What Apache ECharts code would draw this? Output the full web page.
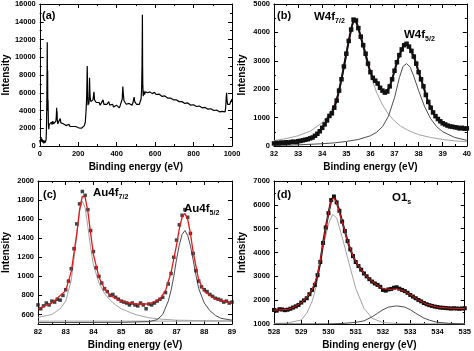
<!DOCTYPE html>
<html><head><meta charset="utf-8">
<script src="https://cdn.jsdelivr.net/npm/echarts@6/dist/echarts.min.js"></script>
<style>html,body{margin:0;padding:0;background:#fff}#c{width:474px;height:351px}</style>
</head><body><div id="c"></div>
<script>
// ---------- (a) survey spectrum ----------
const surveyData = [[0,700],[3,300],[6,900],[9,500],[12,800],[15,400],[18,650],[21,300],[24,600],[27,350],[30,500],[33,700],[35,2000],[37,5500],[39,11700],[40,7000],[41,8500],[42,4000],[43,5200],[45,2500],[47,1900],[49,2400],[52,2200],[55,2500],[58,2300],[61,2700],[64,2400],[68,2800],[72,2500],[76,2600],[80,2400],[84,2800],[86,3300],[88,4300],[89,3000],[90,3900],[91,3000],[94,2500],[98,2700],[102,2500],[106,3100],[110,2600],[114,2700],[118,2400],[122,2500],[127,2300],[132,2450],[137,2300],[142,2400],[147,2200],[152,2450],[157,2200],[162,2350],[167,2250],[172,2200],[177,2300],[182,2100],[187,2200],[192,2050],[197,2150],[202,2050],[207,2000],[212,2100],[217,2000],[222,2050],[227,2150],[232,2300],[237,2700],[241,4000],[244,5500],[247,9000],[249,6000],[251,4600],[253,5000],[255,4700],[257,5200],[258,6500],[259,7700],[261,6000],[263,5300],[266,5000],[269,5100],[273,4800],[277,5200],[280,5400],[282,6100],[285,5200],[289,5000],[294,4900],[299,4900],[304,4700],[309,4900],[314,4600],[319,4800],[324,4700],[329,5200],[334,4700],[339,4800],[344,4600],[349,4700],[354,4600],[359,5000],[364,4600],[369,4700],[374,4500],[379,4700],[384,4400],[389,4600],[394,4400],[399,4600],[404,4400],[409,4500],[414,4300],[419,4600],[425,4700],[429,5300],[432,6700],[435,5800],[438,5100],[442,4900],[446,5000],[450,4700],[455,4900],[460,4600],[465,4800],[470,4700],[475,4700],[480,4600],[485,4900],[488,5100],[491,5500],[494,5000],[498,4800],[503,4700],[508,4600],[513,4800],[518,4700],[523,4800],[527,5300],[530,6500],[532,9000],[534,14800],[535,9000],[536,7000],[538,5600],[541,6200],[545,5800],[549,6100],[553,5900],[557,6200],[561,6000],[565,6200],[569,6000],[573,6100],[577,5900],[581,6100],[585,5900],[589,6100],[593,5900],[597,6050],[601,5950],[605,5800],[610,5950],[615,5750],[620,5850],[625,5650],[630,5750],[635,5600],[640,5700],[645,5550],[650,5650],[655,5500],[660,5550],[665,5400],[670,5500],[675,5300],[680,5400],[685,5250],[690,5300],[695,5200],[700,5300],[705,5100],[710,5200],[715,5050],[720,5150],[725,5000],[730,5100],[735,4950],[740,5000],[745,4850],[750,4950],[755,4800],[760,4850],[765,4750],[770,4850],[775,4650],[780,4750],[785,4600],[790,4700],[795,4550],[800,4650],[805,4500],[810,4600],[815,4450],[820,4550],[825,4400],[830,4500],[835,4350],[840,4450],[845,4300],[850,4400],[855,4250],[860,4350],[865,4200],[870,4300],[875,4150],[880,4250],[885,4100],[890,4200],[895,4050],[900,4150],[905,4000],[910,4100],[915,3950],[920,4050],[925,3900],[930,4000],[935,3850],[940,3950],[945,3850],[950,3900],[955,3800],[960,3900],[964,3850],[967,4300],[970,5500],[972,6000],[974,5200],[977,4700],[980,4800],[984,4600],[988,4700],[992,4900],[996,5100],[1000,5300]];

// ---------- (b) W4f ----------
const w4fData = [[32.0,90],[32.1,110],[32.2,100],[32.3,120],[32.4,110],[32.5,130],[32.6,120],[32.7,140],[32.8,150],[32.9,140],[33.0,170],[33.1,180],[33.2,200],[33.3,220],[33.4,240],[33.5,270],[33.6,300],[33.7,360],[33.8,430],[33.9,520],[34.0,640],[34.1,760],[34.2,900],[34.3,1060],[34.4,1150],[34.5,1350],[34.6,1600],[34.7,1950],[34.8,2350],[34.9,2800],[35.0,3250],[35.1,3700],[35.2,4100],[35.3,4450],[35.4,4420],[35.5,4150],[35.6,3850],[35.7,3550],[35.8,3250],[35.9,2900],[36.0,2600],[36.1,2400],[36.2,2300],[36.3,2200],[36.4,2050],[36.5,1950],[36.6,1880],[36.7,1920],[36.8,2100],[36.9,2350],[37.0,2650],[37.1,2950],[37.2,3200],[37.3,3400],[37.4,3550],[37.5,3600],[37.6,3500],[37.7,3350],[37.8,3150],[37.9,2900],[38.0,2600],[38.1,2350],[38.2,2100],[38.3,1800],[38.4,1550],[38.5,1350],[38.6,1180],[38.7,1050],[38.8,950],[38.9,870],[39.0,800],[39.1,760],[39.2,720],[39.3,690],[39.4,680],[39.5,660],[39.6,650],[39.7,620],[39.8,640],[39.9,610],[40.0,620]];
const w4fFit = [[32.0,110],[32.4,120],[32.8,150],[33.2,200],[33.6,310],[34.0,650],[34.2,900],[34.4,1200],[34.6,1620],[34.8,2350],[35.0,3250],[35.2,4100],[35.3,4400],[35.4,4380],[35.6,3850],[35.8,3200],[36.0,2600],[36.2,2270],[36.4,2050],[36.6,1900],[36.8,2080],[37.0,2620],[37.2,3180],[37.4,3520],[37.5,3570],[37.6,3480],[37.8,3130],[38.0,2600],[38.2,2080],[38.4,1560],[38.6,1190],[38.8,950],[39.0,800],[39.4,680],[39.8,630],[40.0,620]];
const w4f72Peak = [[32.0,190],[32.5,260],[33.0,360],[33.5,520],[34.0,820],[34.25,1080],[34.5,1450],[34.75,2100],[35.0,3150],[35.15,3900],[35.3,4400],[35.45,4250],[35.6,3800],[35.8,3100],[36.0,2500],[36.25,1900],[36.5,1450],[36.75,1120],[37.0,880],[37.25,700],[37.5,580],[37.75,480],[38.0,400],[38.5,300],[39.0,230],[39.5,180],[40.0,150]];
const w4f52Peak = [[32.0,20],[33.0,40],[34.0,80],[34.5,110],[35.0,160],[35.5,230],[36.0,360],[36.25,480],[36.5,680],[36.75,1050],[37.0,1700],[37.2,2400],[37.35,2800],[37.5,2900],[37.65,2780],[37.8,2450],[38.0,1950],[38.25,1380],[38.5,960],[38.75,680],[39.0,500],[39.5,300],[40.0,200]];

// ---------- (c) Au4f ----------
const au4fData = [[82.0,700],[82.1,660],[82.2,690],[82.3,720],[82.4,700],[82.5,740],[82.6,730],[82.7,760],[82.8,750],[82.9,800],[83.0,860],[83.1,950],[83.2,1080],[83.3,1290],[83.4,1550],[83.5,1760],[83.6,1890],[83.7,1850],[83.8,1700],[83.9,1480],[84.0,1260],[84.1,1090],[84.2,1000],[84.3,930],[84.4,870],[84.5,840],[84.6,800],[84.7,810],[84.8,780],[84.9,760],[85.0,740],[85.1,730],[85.2,720],[85.3,700],[85.4,720],[85.5,700],[85.6,690],[85.7,720],[85.8,700],[85.9,660],[86.0,710],[86.1,700],[86.2,720],[86.3,740],[86.4,760],[86.5,780],[86.6,830],[86.7,920],[86.8,1030],[86.9,1200],[87.0,1380],[87.1,1540],[87.2,1640],[87.3,1700],[87.4,1620],[87.5,1450],[87.6,1240],[87.7,1060],[87.8,950],[87.9,890],[88.0,860],[88.1,840],[88.2,810],[88.3,790],[88.4,770],[88.5,760],[88.6,750],[88.7,730],[88.8,740],[88.9,720],[89.0,730]];
const au4fFit = [[82.0,660],[82.5,720],[83.0,850],[83.2,1050],[83.4,1450],[83.5,1700],[83.6,1840],[83.65,1860],[83.7,1830],[83.8,1680],[83.9,1450],[84.0,1230],[84.2,990],[84.4,870],[84.6,800],[85.0,740],[85.5,710],[86.0,710],[86.4,760],[86.6,850],[86.8,1040],[87.0,1330],[87.1,1500],[87.2,1620],[87.3,1660],[87.4,1600],[87.5,1450],[87.6,1250],[87.8,960],[88.0,840],[88.4,760],[89.0,720]];
const au4f72Peak = [[82.0,570],[82.5,600],[82.8,660],[83.0,740],[83.2,960],[83.3,1180],[83.4,1430],[83.5,1680],[83.6,1790],[83.7,1720],[83.8,1520],[83.9,1300],[84.0,1120],[84.2,930],[84.4,820],[84.6,750],[84.8,700],[85.0,660],[85.5,600],[86.0,565],[86.5,550],[87.0,540],[88.0,535],[89.0,532]];
const au4f52Peak = [[82.0,515],[85.0,517],[86.0,525],[86.3,545],[86.5,600],[86.7,740],[86.8,850],[86.9,1000],[87.0,1180],[87.1,1330],[87.2,1440],[87.3,1480],[87.4,1430],[87.5,1320],[87.6,1170],[87.7,1010],[87.8,870],[88.0,720],[88.2,640],[88.4,590],[88.6,560],[89.0,540]];
const au4fBase = [[82.0,530],[89.0,530]];

// ---------- (d) O1s ----------
const o1sData = [[528.0,1590],[528.1,1560],[528.2,1620],[528.3,1610],[528.4,1580],[528.5,1600],[528.6,1640],[528.7,1690],[528.8,1740],[528.9,1800],[529.0,1900],[529.1,1990],[529.2,2080],[529.3,2250],[529.4,2430],[529.5,2640],[529.6,3050],[529.7,3600],[529.8,4400],[529.9,5050],[530.0,5650],[530.1,6200],[530.2,6350],[530.3,6100],[530.4,5750],[530.5,5300],[530.6,4900],[530.7,4480],[530.8,4130],[530.9,3850],[531.0,3600],[531.1,3430],[531.2,3280],[531.3,3120],[531.4,3000],[531.5,2880],[531.6,2780],[531.7,2700],[531.8,2640],[531.9,2560],[532.0,2430],[532.1,2400],[532.2,2450],[532.3,2470],[532.4,2520],[532.5,2540],[532.6,2480],[532.7,2430],[532.8,2380],[532.9,2310],[533.0,2220],[533.1,2150],[533.2,2080],[533.3,2010],[533.4,1950],[533.5,1880],[533.6,1830],[533.7,1790],[533.8,1760],[533.9,1730],[534.0,1710],[534.1,1690],[534.2,1680],[534.3,1670],[534.4,1660],[534.5,1650],[534.6,1660],[534.7,1650],[534.8,1640],[534.9,1650],[535.0,1660]];
const o1sFit = [[528.0,1580],[528.5,1610],[528.8,1740],[529.0,1890],[529.2,2100],[529.4,2450],[529.6,3050],[529.8,4350],[530.0,5650],[530.1,6150],[530.2,6300],[530.3,6080],[530.5,5300],[530.7,4480],[530.9,3850],[531.1,3430],[531.3,3120],[531.5,2880],[531.8,2620],[532.0,2480],[532.3,2450],[532.5,2480],[532.8,2370],[533.0,2230],[533.3,2010],[533.6,1830],[534.0,1710],[534.5,1660],[535.0,1650]];
const o1sLatticePeak = [[528.0,1020],[528.5,1040],[529.0,1170],[529.2,1450],[529.4,1950],[529.5,2360],[529.6,2850],[529.8,4200],[530.0,5200],[530.15,5600],[530.3,5450],[530.5,4650],[530.8,3350],[531.0,2500],[531.3,1660],[531.6,1240],[532.0,1060],[532.5,1020],[535.0,1005]];
const o1sOHPeak = [[528.0,1000],[530.0,1005],[530.5,1020],[531.0,1070],[531.3,1130],[531.6,1300],[531.8,1450],[532.0,1600],[532.2,1710],[532.5,1760],[532.8,1710],[533.0,1600],[533.2,1450],[533.5,1250],[533.7,1160],[534.0,1070],[534.5,1020],[535.0,1005]];

// axis ranges [min, max, interval]
const xRanges = [[0,1000,200],[32,40,1],[82,89,1],[528,535,1]];
const yRanges = [[0,16000,2000],[0,5000,1000],[500,2000,100],[1000,7000,1000]];
const auYLabels = [600,800,1000,1200,1400,1600,1800,2000];

const FONT = '"Liberation Sans", Arial, sans-serif';
const grids = [
  {left:38, top:3, width:194, height:143},
  {left:274, top:3, width:194, height:143},
  {left:38, top:181, width:194, height:143},
  {left:274, top:181, width:194, height:143}
];
const xAxes = [], yAxes = [];
const lineCol = '#000';
const fmt = v => String(v);
for (let g = 0; g < 4; g++) {
  const [x0,x1,xi] = xRanges[g];
  const [y0,y1,yi] = yRanges[g];
  const tick = {show:true, inside:true, length:4, lineStyle:{color:lineCol, width:1}};
  const minor = {show:true, splitNumber:2, length:2, lineStyle:{color:lineCol, width:1}};
  const lab = {fontSize:7.5, fontWeight:'bold', color:'#000', fontFamily:FONT, formatter:fmt};
  xAxes.push({gridIndex:g, type:'value', min:x0, max:x1, interval:xi, position:'bottom',
    axisLine:{onZero:false, lineStyle:{color:lineCol, width:1}}, axisTick:tick, minorTick:minor,
    axisLabel:Object.assign({margin:4}, lab), splitLine:{show:false},
    name:'Binding energy (eV)', nameLocation:'middle', nameGap:16,
    nameTextStyle:{fontSize:10, fontWeight:'bold', color:'#000', fontFamily:FONT}});
  xAxes.push({gridIndex:g, type:'value', min:x0, max:x1, interval:xi, position:'top',
    axisLine:{onZero:false, lineStyle:{color:lineCol, width:1}}, axisTick:tick, minorTick:minor,
    axisLabel:{show:false}, splitLine:{show:false}});
  const yl = Object.assign({margin:4}, lab);
  const yt = Object.assign({}, tick);
  let ym = minor;
  if (g === 2) { yl.customValues = auYLabels; yt.customValues = auYLabels; ym = {show:false}; }
  yAxes.push({gridIndex:g, type:'value', min:y0, max:y1, interval:yi, position:'left',
    axisLine:{show:true, onZero:false, lineStyle:{color:lineCol, width:1}}, axisTick:yt, minorTick:ym,
    axisLabel:yl, splitLine:{show:false},
    name:'Intensity', nameLocation:'middle', nameGap:27, nameRotate:90,
    nameTextStyle:{fontSize:10, fontWeight:'bold', color:'#000', fontFamily:FONT}});
  yAxes.push({gridIndex:g, type:'value', min:y0, max:y1, interval:yi, position:'right',
    axisLine:{show:true, onZero:false, lineStyle:{color:lineCol, width:1}}, axisTick:yt, minorTick:ym,
    axisLabel:{show:false}, splitLine:{show:false}});
}
const RED = '#e3191c', LGRAY = '#a3a3a3', DGRAY = '#4d4d4d';
function line(g, data, color, width, z) {
  return {type:'line', xAxisIndex:2*g, yAxisIndex:2*g, data, showSymbol:false, symbol:'none',
    lineStyle:{color, width}, z, animation:false, silent:true};
}
function band(g, data, size) {
  return {type:'line', xAxisIndex:2*g, yAxisIndex:2*g, data, symbol:'rect', symbolSize:size, showSymbol:true,
    showAllSymbol:true, itemStyle:{color:'#111'}, lineStyle:{color:'#111', width:2}, z:4, animation:false, silent:true};
}
function pts(g, data, size) {
  return {type:'scatter', xAxisIndex:2*g, yAxisIndex:2*g, data, symbol:'rect', symbolSize:size,
    itemStyle:{color:'#111'}, z:4, animation:false, silent:true};
}
const series = [
  line(0, surveyData, '#000', 1.2, 3),
  line(1, w4f72Peak, LGRAY, 1, 2), line(1, w4f52Peak, DGRAY, 1, 2),
  line(1, w4fFit, RED, 1.4, 3), band(1, w4fData, 4.5),
  line(2, au4fBase, LGRAY, 1, 2), line(2, au4f72Peak, LGRAY, 1, 2), line(2, au4f52Peak, DGRAY, 1, 2),
  pts(2, au4fData, 3.5), line(2, au4fFit, RED, 1.3, 5),
  line(3, o1sLatticePeak, LGRAY, 1, 2), line(3, o1sOHPeak, DGRAY, 1, 2),
  band(3, o1sData, 4), line(3, o1sFit, RED, 1, 5)
];
function label(x, y, text, size) {
  return {type:'text', x:x, y:y, z:20, style:{text, fontSize:size||11, fontWeight:'bold', fill:'#000', fontFamily:FONT, verticalAlign:'middle', align:'left'}};
}
function subLabel(x, y, main, sub) {
  return {type:'text', x:x, y:y, z:20, style:{
    text:'{m|' + main + '}{s|' + sub + '}', verticalAlign:'middle', fontFamily:FONT,
    rich:{m:{fontSize:11.5, fontWeight:'bold', fill:'#000', fontFamily:FONT, lineHeight:16, verticalAlign:'middle'},
          s:{fontSize:7, fontWeight:'bold', fill:'#000', fontFamily:FONT, lineHeight:16, verticalAlign:'bottom'}}}};
}
const graphics = [
  label(42, 16, '(a)'), label(277, 16, '(b)'), label(43, 195, '(c)'), label(277, 195, '(d)'),
  subLabel(314, 17, 'W4f', '7/2'), subLabel(404, 35, 'W4f', '5/2'),
  subLabel(93, 193, 'Au4f', '7/2'), subLabel(184, 209, 'Au4f', '5/2'),
  subLabel(392, 198, 'O1', 's')
];
const chart = echarts.init(document.getElementById('c'), null, {renderer:'canvas'});
chart.setOption({animation:false, backgroundColor:'#fff', grid:grids, xAxis:xAxes, yAxis:yAxes, series, graphic:graphics});
</script></body></html>
